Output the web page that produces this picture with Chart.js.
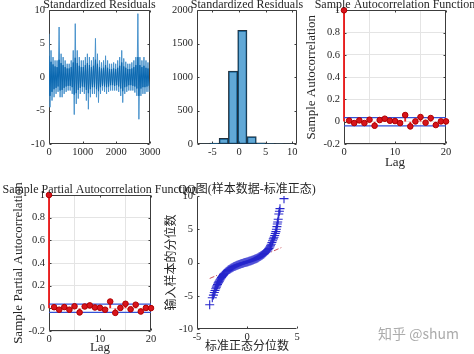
<!DOCTYPE html>
<html>
<head>
<meta charset="utf-8">
<script src="https://cdn.jsdelivr.net/npm/chart.js@4.4.0/dist/chart.umd.min.js"></script>
<style>
  html, body { margin: 0; padding: 0; background: #fff; }
  #fig { position: relative; width: 474px; height: 354px; overflow: hidden; }
  #fig canvas { position: absolute; left: 0; top: 0; }
  #mark { position: absolute; left: 378px; top: 323px; font: 14px "Noto Sans CJK SC", sans-serif; color: #ababab; }
</style>
</head>
<body>
<div id="fig">
  <canvas id="resid" width="474" height="354"></canvas>
  <canvas id="hist" width="474" height="354"></canvas>
  <canvas id="acf" width="474" height="354"></canvas>
  <canvas id="pacf" width="474" height="354"></canvas>
  <canvas id="qq" width="474" height="354"></canvas>
  <div id="mark">知乎 @shum</div>
</div>
<script>
// standardized residuals, read as the upper / lower reach of every 60 observations
const residStep = 60;
const residHigh = [6.5, 4.0, 3.0, 2.5, 2.5, 7.5, 3.5, 3.0, 2.5, 2.0,
                   2.0, 2.5, 4.0, 8.0, 4.0, 3.0, 2.5, 2.5, 3.0, 3.5,
                   3.0, 2.5, 3.0, 5.8, 3.5, 2.5, 2.2, 2.5, 3.2, 2.5,
                   2.0, 2.0, 2.2, 2.0, 2.5, 3.0, 4.0, 2.8, 2.3, 2.0,
                   2.0, 2.2, 2.5, 3.0, 9.5, 3.0, 2.5, 3.0, 2.5, 2.2];
const residLow = [-4.5, -3.5, -3.0, -2.5, -2.2, -3.0, -3.0, -2.5, -2.2, -2.0,
                  -2.0, -2.5, -5.6, -4.0, -3.2, -2.5, -2.2, -2.5, -3.5, -4.8,
                  -3.0, -2.5, -2.5, -3.0, -3.8, -2.5, -2.0, -2.2, -2.5, -2.2,
                  -2.0, -2.0, -2.0, -2.0, -2.2, -2.8, -3.8, -2.5, -2.2, -2.0,
                  -2.0, -2.0, -2.3, -2.8, -6.3, -2.8, -2.5, -2.5, -2.2, -2.2];
// where the trace is dense (darker core)
const coreHigh = [3.2, 2.3, 1.9, 1.6, 1.5, 2.6, 2.1, 1.8, 1.5, 1.3,
                  1.3, 1.5, 2.2, 2.9, 2.1, 1.7, 1.5, 1.5, 1.8, 2.1,
                  1.8, 1.5, 1.7, 2.6, 2.0, 1.5, 1.3, 1.4, 1.8, 1.4,
                  1.2, 1.2, 1.3, 1.2, 1.4, 1.7, 2.2, 1.6, 1.4, 1.2,
                  1.2, 1.3, 1.5, 1.8, 3.0, 1.8, 1.5, 1.7, 1.4, 1.3];
const coreLow = [-2.8, -2.2, -1.8, -1.6, -1.4, -2.0, -1.9, -1.6, -1.4, -1.3,
                 -1.3, -1.5, -2.6, -2.4, -1.9, -1.6, -1.4, -1.5, -1.9, -2.4,
                 -1.8, -1.5, -1.5, -1.8, -2.1, -1.5, -1.3, -1.4, -1.5, -1.4,
                 -1.2, -1.2, -1.3, -1.2, -1.4, -1.7, -2.1, -1.5, -1.4, -1.2,
                 -1.2, -1.3, -1.4, -1.7, -2.8, -1.7, -1.5, -1.5, -1.4, -1.3];

// histogram of the residuals
const histCenters = [-6.375, -4.625, -2.875, -1.125, 0.625, 2.375, 4.125, 5.875, 7.625, 9.375];
const histCounts = [1, 12, 85, 1090, 1700, 110, 18, 5, 2, 1];

// autocorrelations
const lags = [0, 1, 2, 3, 4, 5, 6, 7, 8, 9, 10, 11, 12, 13, 14, 15, 16, 17, 18, 19, 20];
const acfValues = [1, 0.010, -0.012, 0.012, -0.012, 0.018, -0.036, 0.015, 0.027, 0.009, 0.006,
                   -0.012, 0.060, -0.042, 0.003, 0.042, -0.009, 0.033, -0.030, 0.003, 0.003];
const pacfValues = [1, 0.010, -0.012, 0.011, -0.012, 0.018, -0.036, 0.016, 0.026, 0.008, 0.005,
                    -0.012, 0.060, -0.040, 0.004, 0.040, -0.008, 0.032, -0.028, 0.004, 0.002];
const confBound = 0.0365;

// QQ plot: standard normal quantiles vs sample quantiles
const qqTheory = [-3.73, -3.47, -3.36, -3.27, -3.2, -3.13, -3.07, -3.01, -2.95, -2.89,
                  -2.83, -2.77, -2.7, -2.63, -2.56, -2.49, -2.42, -2.35, -2.28, -2.2,
                  -2.1, -2.0, -1.9, -1.8, -1.7, -1.6, -1.5, -1.4, -1.3, -1.2,
                  -1.1, -1.0, -0.9, -0.8, -0.7, -0.6, -0.5, -0.4, -0.3, -0.2,
                  -0.1, 0, 0.1, 0.2, 0.3, 0.4, 0.5, 0.6, 0.7, 0.8,
                  0.9, 1.0, 1.1, 1.2, 1.3, 1.4, 1.5, 1.6, 1.7, 1.8,
                  1.9, 2.0, 2.1, 2.2, 2.28, 2.35, 2.42, 2.49, 2.56, 2.63,
                  2.7, 2.77, 2.83, 2.89, 2.94, 2.99, 3.03, 3.07, 3.12, 3.18,
                  3.24, 3.3, 3.7];
const qqSample = [-6.35, -5.3, -4.9, -4.5, -4.2, -3.95, -3.7, -3.5, -3.3, -3.1,
                  -2.95, -2.8, -2.62, -2.45, -2.28, -2.12, -1.97, -1.83, -1.7, -1.57,
                  -1.43, -1.3, -1.18, -1.07, -0.97, -0.87, -0.78, -0.7, -0.62, -0.55,
                  -0.48, -0.42, -0.36, -0.3, -0.25, -0.2, -0.15, -0.1, -0.05, 0.0,
                  0.04, 0.09, 0.13, 0.18, 0.23, 0.28, 0.33, 0.39, 0.45, 0.51,
                  0.58, 0.65, 0.73, 0.81, 0.9, 1.0, 1.1, 1.21, 1.33, 1.46,
                  1.6, 1.75, 1.93, 2.13, 2.32, 2.52, 2.75, 3.0, 3.27, 3.55,
                  3.8, 4.05, 4.35, 4.65, 5.0, 5.4, 5.8, 6.1, 6.5, 7.3,
                  7.7, 8.1, 9.6];
const qqLineX = [-3.73, 3.6];
const qqLineY = [-2.4, 2.35];

// tick labels
const residXTicks = [0, 1000, 2000, 3000];
const residYTicks = [-10, -5, 0, 5, 10];
const histXTicks = [-5, 0, 5, 10];
const histYTicks = [0, 500, 1000, 1500, 2000];
const lagTicks = [0, 10, 20];
const corrTicks = [-0.2, 0, 0.2, 0.4, 0.6, 0.8, 1];
const qqXTicks = [-5, 0, 5];
const qqYTicks = [-10, -5, 0, 5, 10];

const W = 474, H = 354;
const SERIF = '"Liberation Serif", "Noto Sans CJK SC", serif';
Chart.defaults.font.family = SERIF;
Chart.defaults.color = '#262626';

// matlab-like axes: box and inward ticks under the data, title and labels on top
const panelDecor = {
  id: 'panelDecor',
  beforeDatasetsDraw(chart, args, o) {
    const {ctx, chartArea: a, scales: {x, y}} = chart;
    const L = Math.round(a.left) + 0.5, R = Math.round(a.right) - 0.5;
    const T = Math.round(a.top) + 0.5, B = Math.round(a.bottom) - 0.5;
    ctx.save();
    ctx.strokeStyle = '#3c3c3c';
    ctx.lineWidth = 1;
    ctx.beginPath();
    ctx.moveTo(L, T); ctx.lineTo(L, B); ctx.lineTo(R, B);
    if (o.box) { ctx.lineTo(R, T); ctx.lineTo(L, T); }
    x.ticks.forEach(t => {
      const px = Math.round(x.getPixelForValue(t.value)) + 0.5;
      ctx.moveTo(px, B); ctx.lineTo(px, B - 2);
      if (o.box) { ctx.moveTo(px, T); ctx.lineTo(px, T + 2); }
    });
    y.ticks.forEach(t => {
      const py = Math.round(y.getPixelForValue(t.value)) + 0.5;
      ctx.moveTo(L, py); ctx.lineTo(L + 2, py);
      if (o.box) { ctx.moveTo(R, py); ctx.lineTo(R - 2, py); }
    });
    ctx.stroke();
    ctx.restore();
  },
  afterDatasetsDraw(chart, args, o) {
    const {ctx, chartArea: a} = chart;
    ctx.save();
    ctx.fillStyle = '#262626';
    ctx.textAlign = 'center';
    ctx.textBaseline = 'middle';
    const cx = (a.left + a.right) / 2, cy = (a.top + a.bottom) / 2;
    if (o.title) {
      ctx.font = '12px ' + SERIF;
      ctx.fillText(o.title, cx, o.titleY);
    }
    ctx.font = (o.labelSize || 13) + 'px ' + SERIF;
    if (o.xLabel) ctx.fillText(o.xLabel, cx, o.xLabelY);
    if (o.yLabel) {
      ctx.translate(o.yLabelX, cy);
      ctx.rotate(-Math.PI / 2);
      ctx.fillText(o.yLabel, 0, 0);
    }
    ctx.restore();
  }
};

function makePanel(id, p) {
  const [l, t, r, b] = p.area;
  const tickFont = { size: 10.5 };
  const grid = { display: !!p.grid, color: '#e4e4e4', drawTicks: false };
  return new Chart(document.getElementById(id), {
    type: 'scatter',
    data: { datasets: p.datasets },
    options: {
      responsive: false,
      animation: false,
      events: [],
      layout: { padding: { left: l - p.yW, top: t, right: W - r, bottom: H - b - p.xH } },
      scales: {
        x: {
          type: 'linear', min: p.xRange[0], max: p.xRange[1], offset: false,
          grid: grid, border: { display: false },
          ticks: { font: tickFont, padding: 2, maxRotation: 0, autoSkip: false, callback: v => String(v) },
          afterBuildTicks: s => { s.ticks = p.xTicks.map(v => ({ value: v })); },
          afterFit: s => { s.height = p.xH; }
        },
        y: {
          type: 'linear', min: p.yRange[0], max: p.yRange[1],
          grid: grid, border: { display: false },
          ticks: { font: tickFont, padding: 4, autoSkip: false, callback: v => String(v) },
          afterBuildTicks: s => { s.ticks = p.yTicks.map(v => ({ value: v })); },
          afterFit: s => { s.width = p.yW; }
        }
      },
      plugins: {
        legend: { display: false },
        tooltip: { enabled: false },
        panelDecor: p.decor
      }
    },
    plugins: [panelDecor]
  });
}

function zigzag(high, low) {
  const pts = [];
  high.forEach((h, i) => {
    pts.push({ x: i * residStep, y: h });
    pts.push({ x: i * residStep + residStep / 2, y: low[i] });
  });
  return pts;
}

makePanel('resid', {
  area: [49, 10, 150, 144], yW: 30, xH: 20,
  xRange: [0, 3000], yRange: [-10, 10], xTicks: residXTicks, yTicks: residYTicks,
  datasets: [
    { type: 'line', data: zigzag(coreHigh, coreLow), borderColor: '#0b68b0', borderWidth: 1, pointRadius: 0, order: 0 },
    { type: 'line', data: zigzag(residHigh, residLow), borderColor: '#4a93cc', borderWidth: 1, pointRadius: 0, order: 1 }
  ],
  decor: { box: true, title: 'Standardized Residuals', titleY: 4.5 }
});

makePanel('hist', {
  area: [197, 10, 297, 144], yW: 30, xH: 20,
  xRange: [-7.9, 10.9], yRange: [0, 2000], xTicks: histXTicks, yTicks: histYTicks,
  datasets: [{
    type: 'bar',
    data: histCenters.map((c, i) => ({ x: c, y: histCounts[i] })),
    backgroundColor: 'rgba(0,114,189,0.62)', borderColor: '#22303c', borderWidth: 1,
    borderSkipped: false, barPercentage: 1, categoryPercentage: 1
  }],
  decor: { box: true, title: 'Standardized Residuals', titleY: 4.5 }
});

function corrDatasets(values) {
  const stems = lags.map((g, i) => ({ x: g, y: values[i] }));
  const marks = lags.map((g, i) => ({ x: g, y: values[i] }));
  return [
    { type: 'scatter', data: marks, clip: false, pointRadius: 2.8, pointBackgroundColor: '#d8141c', pointBorderColor: '#b00000', pointBorderWidth: 1, order: 0 },
    { type: 'line', data: [{ x: 0, y: confBound }, { x: 20, y: confBound }], borderColor: '#3352d8', borderWidth: 1.2, pointRadius: 0, order: 1 },
    { type: 'line', data: [{ x: 0, y: -confBound }, { x: 20, y: -confBound }], borderColor: '#3352d8', borderWidth: 1.2, pointRadius: 0, order: 1 },
    { type: 'bar', data: stems, clip: false, backgroundColor: '#ee2020', barThickness: 1.2, order: 2 }
  ];
}

makePanel('acf', {
  area: [344, 10, 446, 144], yW: 40, xH: 28, grid: true,
  xRange: [0, 20], yRange: [-0.2, 1], xTicks: lagTicks, yTicks: corrTicks,
  datasets: corrDatasets(acfValues),
  decor: { box: true, title: 'Sample Autocorrelation Function', titleY: 4.5,
           xLabel: 'Lag', xLabelY: 163, yLabel: 'Sample Autocorrelation', yLabelX: 312 }
});

makePanel('pacf', {
  area: [49, 195, 151, 331], yW: 40, xH: 23, grid: true,
  xRange: [0, 20], yRange: [-0.2, 1], xTicks: lagTicks, yTicks: corrTicks,
  datasets: corrDatasets(pacfValues),
  decor: { box: true, title: 'Sample Partial Autocorrelation Function', titleY: 190,
           xLabel: 'Lag', xLabelY: 348, yLabel: 'Sample Partial Autocorrelation', yLabelX: 19 }
});

makePanel('qq', {
  area: [197, 196, 297, 329], yW: 28, xH: 25,
  xRange: [-5, 5], yRange: [-10, 10], xTicks: qqXTicks, yTicks: qqYTicks,
  datasets: [
    { type: 'scatter', data: qqTheory.map((q, i) => ({ x: q, y: qqSample[i] })),
      pointStyle: 'cross', pointRadius: 4.5, borderColor: '#2626cc', pointBorderWidth: 1.1, order: 0 },
    { type: 'line', data: qqLineX.map((q, i) => ({ x: q, y: qqLineY[i] })),
      borderColor: '#c9505a', borderWidth: 1, borderDash: [5, 2, 1, 2], pointRadius: 0, order: 1 }
  ],
  decor: { box: false, title: 'QQ图(样本数据-标准正态)', titleY: 190, labelSize: 12,
           xLabel: '标准正态分位数', xLabelY: 347, yLabel: '输入样本的分位数', yLabelX: 172 }
});
</script>
</body>
</html>
